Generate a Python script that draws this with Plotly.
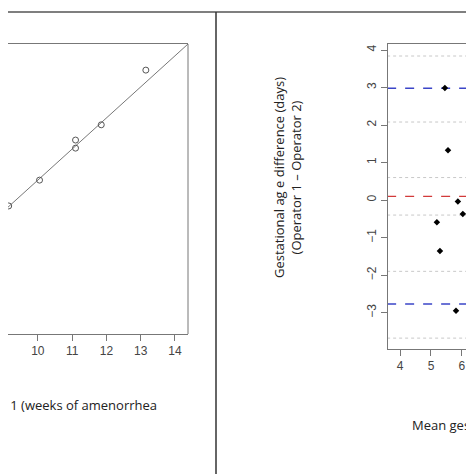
import plotly.graph_objects as go

# Left panel: operator 1 vs operator 2 (weeks)
op1 = [9.15, 10.05, 11.1, 11.1, 11.85, 13.15]
op2 = [9.17, 10.0, 11.03, 11.29, 11.78, 13.54]
ident = [4, 15]

# Right panel: Bland-Altman
mean_ga = [5.45, 6.61, 5.55, 6.61, 5.87, 6.26, 6.03, 6.35, 5.19, 5.29, 5.81]
diff_days = [2.99, 3.65, 1.33, 0.96, -0.04, 0.05, -0.37, -0.3, -0.59, -1.36, -2.95]
mean_diff = 0.1
loa = [2.98, -2.77]
grid_y = [3.84, 2.08, 0.6, -0.4, -1.9, -3.68]
x_ticks = [4, 5, 6, 7, 8]
y_ticks = [-3, -2, -1, 0, 1, 2, 3, 4]

W = H = 474
def px(x): return x / W
def py(y): return 1 - y / H

fig = go.Figure()
fig.add_trace(go.Scatter(x=ident, y=ident, mode="lines", line=dict(color="#777", width=1),
                         xaxis="x", yaxis="y", hoverinfo="skip"))
fig.add_trace(go.Scatter(x=op1, y=op2, mode="markers", xaxis="x", yaxis="y",
                         marker=dict(symbol="circle-open", size=6, color="#555", line=dict(width=1))))
for g in grid_y:
    fig.add_trace(go.Scatter(x=[3, 8], y=[g, g], mode="lines", xaxis="x2", yaxis="y2",
                             line=dict(color="#c8c8c8", width=1, dash="dot"), hoverinfo="skip"))
for v in loa:
    fig.add_trace(go.Scatter(x=[3, 8], y=[v, v], mode="lines", xaxis="x2", yaxis="y2",
                             line=dict(color="#3b45c8", width=1.3, dash="dash"), hoverinfo="skip"))
fig.add_trace(go.Scatter(x=[3, 8], y=[mean_diff, mean_diff], mode="lines", xaxis="x2", yaxis="y2",
                         line=dict(color="#d23a3a", width=1.3, dash="dash"), hoverinfo="skip"))
fig.add_trace(go.Scatter(x=mean_ga, y=diff_days, mode="markers", xaxis="x2", yaxis="y2",
                         marker=dict(symbol="diamond", size=5, color="black")))

tickfont = dict(family="Liberation Sans, Arial", size=12, color="#444")
fig.update_layout(
    width=W, height=H, autosize=False, showlegend=False,
    margin=dict(l=0, r=0, t=0, b=0),
    paper_bgcolor="white", plot_bgcolor="white",
    xaxis=dict(domain=[0, px(180)], range=[9.13, 14.38], tickvals=[10, 11, 12, 13, 14],
               showgrid=False, zeroline=False, showline=True, mirror=True, linecolor="#777",
               ticks="outside", ticklen=6, tickcolor="#777", tickfont=tickfont),
    yaxis=dict(domain=[py(326), py(36)], range=[5.05, 14.38], showgrid=False, zeroline=False,
               showticklabels=False, showline=False),
    xaxis2=dict(domain=[px(380), 1], range=[3.61, 6.65], tickvals=x_ticks, anchor="y2",
                showgrid=False, zeroline=False, showline=True, mirror=True, linecolor="#777",
                ticks="outside", ticklen=6, tickcolor="#777", tickfont=tickfont),
    yaxis2=dict(domain=[py(341), py(36)], range=[-3.97, 4.16], tickvals=y_ticks, anchor="x2",
                showgrid=False, zeroline=False, showline=True, linecolor="#777",
                ticks="outside", ticklen=6, tickcolor="#777", tickangle=-90, tickfont=tickfont),
)
fig.add_shape(type="line", xref="paper", yref="paper", x0=px(180), x1=px(180), y0=py(326), y1=py(36),
              line=dict(color="#777", width=1))
# outer frame
fig.add_shape(type="line", xref="paper", yref="paper", x0=0, x1=1, y0=py(4), y1=py(4),
              line=dict(color="#555", width=1.5))
fig.add_shape(type="line", xref="paper", yref="paper", x0=0, x1=1, y0=py(472), y1=py(472),
              line=dict(color="#222", width=3))
fig.add_shape(type="line", xref="paper", yref="paper", x0=px(208), x1=px(208), y0=py(472), y1=py(4),
              line=dict(color="#333", width=1.5))

tf = dict(family="Open Sans, Lato, sans-serif", size=13, color="#222")
fig.add_annotation(text="Gestational age by Operator 1 (weeks of amenorrhea", xref="paper", yref="paper",
                   x=px(151), y=py(397), xanchor="right", yanchor="middle", showarrow=False, font=tf)
fig.add_annotation(text="Mean gestational age (weeks of amenorrhea)", xref="paper", yref="paper",
                   x=px(402), y=py(417), xanchor="left", yanchor="middle", showarrow=False, font=tf)
fig.add_annotation(text="Gestational ag e difference (days)<br>(Operator 1 – Operator 2)", xref="paper",
                   yref="paper", x=px(279), y=py(170), textangle=-90, showarrow=False,
                   xanchor="center", yanchor="middle", font=tf)

fig.write_html("out.html")
